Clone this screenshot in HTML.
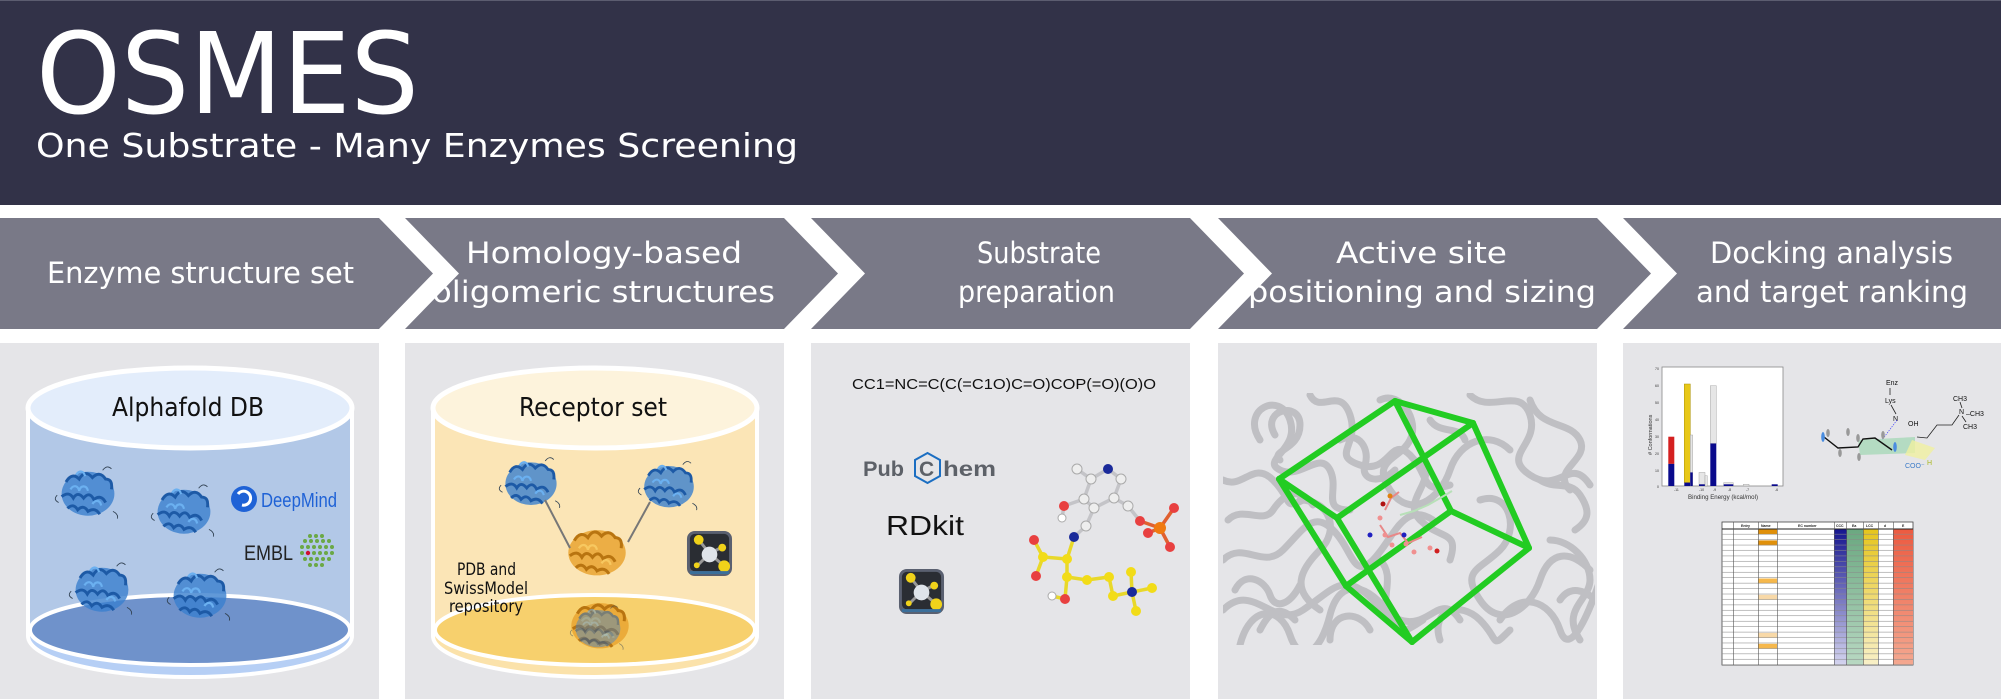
<!DOCTYPE html>
<html><head><meta charset="utf-8"><style>
html,body{margin:0;padding:0;background:#fff;}
svg{display:block;}
</style></head><body>
<svg width="2001" height="699" viewBox="0 0 2001 699" xmlns="http://www.w3.org/2000/svg" font-family="'Liberation Sans', sans-serif">
<defs>
<symbol id="prot" viewBox="0 0 100 90">
<ellipse cx="50" cy="46" rx="36" ry="30" fill="#3a7fce" opacity="0.8"/>
<path d="M20 30 q8 -14 18 -4 q8 -14 18 -2 q10 -10 18 2 q10 0 8 14 M14 50 q10 -8 16 2 q6 -10 14 0 q8 -10 14 2 q10 -8 16 4 M22 66 q8 -8 14 2 q8 -8 14 2 q10 -6 16 4" stroke="#1d5aa6" stroke-width="4" fill="none"/>
<path d="M26 40 c4 -6 10 -6 12 2 c2 -8 10 -8 12 0 M56 60 c4 -6 10 -6 12 2 M34 20 c4 -6 10 -6 12 2" stroke="#6bb0f0" stroke-width="3" fill="none"/>
<path d="M8 48 q-6 6 2 10 M84 70 q8 4 6 10 M70 14 q6 -8 12 -2" stroke="#345" stroke-width="1.2" fill="none"/>
</symbol>
<symbol id="protO" viewBox="0 0 100 90">
<ellipse cx="50" cy="46" rx="38" ry="30" fill="#e9a531" opacity="0.85"/>
<path d="M20 30 q8 -14 18 -4 q8 -14 18 -2 q10 -10 18 2 q10 0 8 14 M14 50 q10 -8 16 2 q6 -10 14 0 q8 -10 14 2 q10 -8 16 4 M22 66 q8 -8 14 2 q8 -8 14 2 q10 -6 16 4" stroke="#b87410" stroke-width="4" fill="none"/>
<path d="M26 40 c4 -6 10 -6 12 2 c2 -8 10 -8 12 0 M56 60 c4 -6 10 -6 12 2" stroke="#f7c860" stroke-width="3" fill="none"/>
</symbol>
<symbol id="icon" viewBox="0 0 48 48">
<rect x="1" y="1" width="46" height="46" rx="8" fill="#5a6070"/>
<rect x="4" y="4" width="40" height="38" rx="5" fill="#2a2d33"/>
<line x1="24" y1="24" x2="13" y2="10" stroke="#999" stroke-width="3"/>
<line x1="24" y1="24" x2="36" y2="18" stroke="#999" stroke-width="3"/>
<line x1="24" y1="24" x2="38" y2="36" stroke="#999" stroke-width="3"/>
<line x1="24" y1="24" x2="12" y2="36" stroke="#999" stroke-width="3"/>
<circle cx="13" cy="10" r="5" fill="#f0d21a"/>
<circle cx="37" cy="18" r="4" fill="#f0d21a"/>
<circle cx="39" cy="37" r="6" fill="#f0d21a"/>
<circle cx="11" cy="36" r="3" fill="#f0d21a"/>
<circle cx="24" cy="25" r="8" fill="#dfe4ea"/>
<rect x="4" y="42" width="40" height="3" fill="#3b6f9a"/>
</symbol>
<linearGradient id="gccc" x1="0" y1="0" x2="0" y2="1"><stop offset="0" stop-color="#15158f"/><stop offset="1" stop-color="#d4d4ef"/></linearGradient>
<linearGradient id="gea" x1="0" y1="0" x2="0" y2="1"><stop offset="0" stop-color="#6aa880"/><stop offset="1" stop-color="#b8d8c2"/></linearGradient>
<linearGradient id="glcc" x1="0" y1="0" x2="0" y2="1"><stop offset="0" stop-color="#e6c51c"/><stop offset="1" stop-color="#f8f0c8"/></linearGradient>
<linearGradient id="ge" x1="0" y1="0" x2="0" y2="1"><stop offset="0" stop-color="#ec5a40"/><stop offset="1" stop-color="#f4a890"/></linearGradient>
<pattern id="rows" x="0" y="529" width="10" height="5.44" patternUnits="userSpaceOnUse"><line x1="0" y1="5.2" x2="10" y2="5.2" stroke="#888" stroke-width="0.6"/></pattern>
<clipPath id="tubeclip"><rect x="1223" y="393" width="372" height="252"/></clipPath>
</defs>

<!-- header -->
<rect x="0" y="0" width="2001" height="205" fill="#323248"/>
<rect x="0" y="0" width="2001" height="1" fill="#5c5d70"/>
<text x="36" y="113" font-size="112" fill="#fff" font-family="'DejaVu Sans Condensed','DejaVu Sans',sans-serif" textLength="383" lengthAdjust="spacingAndGlyphs">OSMES</text>
<text x="36" y="157" font-size="33" fill="#fff" font-family="'DejaVu Sans Condensed','DejaVu Sans',sans-serif" textLength="762" lengthAdjust="spacingAndGlyphs">One Substrate - Many Enzymes Screening</text>

<!-- chevrons -->
<g fill="#797987">
<polygon points="0,218 379,218 433,273.5 379,329 0,329"/>
<polygon points="405,218 784,218 838,273.5 784,329 405,329 459,273.5"/>
<polygon points="811,218 1190,218 1244,273.5 1190,329 811,329 865,273.5"/>
<polygon points="1218,218 1597,218 1651,273.5 1597,329 1218,329 1272,273.5"/>
<polygon points="1623,218 2001,218 2001,329 1623,329 1677,273.5"/>
</g>
<g fill="#fff" font-size="29" font-family="'DejaVu Sans Condensed','DejaVu Sans',sans-serif">
<text x="47" y="283" textLength="307" lengthAdjust="spacingAndGlyphs">Enzyme structure set</text>
<text x="466" y="263" textLength="276" lengthAdjust="spacingAndGlyphs">Homology-based</text>
<text x="432" y="302" textLength="343" lengthAdjust="spacingAndGlyphs">oligomeric structures</text>
<text x="977" y="263" textLength="124" lengthAdjust="spacingAndGlyphs">Substrate</text>
<text x="958" y="302" textLength="157" lengthAdjust="spacingAndGlyphs">preparation</text>
<text x="1336" y="263" textLength="171" lengthAdjust="spacingAndGlyphs">Active site</text>
<text x="1248" y="302" textLength="348" lengthAdjust="spacingAndGlyphs">positioning and sizing</text>
<text x="1710" y="263" textLength="243" lengthAdjust="spacingAndGlyphs">Docking analysis</text>
<text x="1696" y="302" textLength="272" lengthAdjust="spacingAndGlyphs">and target ranking</text>
</g>

<!-- panels -->
<g fill="#e5e5e8">
<rect x="0" y="343" width="379" height="356"/>
<rect x="405" y="343" width="379" height="356"/>
<rect x="811" y="343" width="379" height="356"/>
<rect x="1218" y="343" width="379" height="356"/>
<rect x="1623" y="343" width="378" height="356"/>
</g>

<!-- panel 1 cylinder -->
<ellipse cx="190" cy="636" rx="162" ry="41" fill="#b6cff5" stroke="#fff" stroke-width="4"/>
<rect x="28" y="408" width="324" height="228" fill="#b2c8e7"/>
<ellipse cx="190" cy="630" rx="160" ry="35" fill="#6f92cb" stroke="#fff" stroke-width="4"/>
<line x1="28" y1="408" x2="28" y2="636" stroke="#fff" stroke-width="4"/>
<line x1="352" y1="408" x2="352" y2="636" stroke="#fff" stroke-width="4"/>
<ellipse cx="190" cy="408" rx="162" ry="40" fill="#e3edfb" stroke="#fff" stroke-width="5"/>
<text x="112" y="416" font-size="26" fill="#111" font-family="'DejaVu Sans Condensed','DejaVu Sans',sans-serif" textLength="152" lengthAdjust="spacingAndGlyphs">Alphafold DB</text>
<use href="#prot" x="51" y="460" width="74" height="66"/>
<use href="#prot" x="143" y="478" width="82" height="66"/>
<use href="#prot" x="64" y="556" width="76" height="66"/>
<use href="#prot" x="161" y="562" width="78" height="66"/>
<circle cx="244" cy="499" r="13" fill="#1f62d6"/>
<path d="M238 494 a7 7 0 1 1 4 11" stroke="#fff" stroke-width="3" fill="none"/>
<text x="261" y="507" font-size="20" fill="#1f62d6" textLength="76" lengthAdjust="spacingAndGlyphs">DeepMind</text>
<text x="244" y="560" font-size="21" fill="#222" textLength="49" lengthAdjust="spacingAndGlyphs">EMBL</text>
<g fill="#6aa845">
<circle cx="310" cy="536" r="2"/><circle cx="316" cy="536" r="2"/><circle cx="322" cy="536" r="2"/>
<circle cx="305" cy="541" r="2"/><circle cx="311" cy="541" r="2"/><circle cx="317" cy="541" r="2"/><circle cx="323" cy="541" r="2"/><circle cx="329" cy="541" r="2"/>
<circle cx="302" cy="547" r="2"/><circle cx="308" cy="547" r="2"/><circle cx="314" cy="547" r="2"/><circle cx="320" cy="547" r="2"/><circle cx="326" cy="547" r="2"/><circle cx="332" cy="547" r="2"/>
<circle cx="302" cy="553" r="2"/><circle cx="314" cy="553" r="2"/><circle cx="320" cy="553" r="2"/><circle cx="326" cy="553" r="2"/><circle cx="332" cy="553" r="2"/>
<circle cx="305" cy="559" r="2"/><circle cx="311" cy="559" r="2"/><circle cx="317" cy="559" r="2"/><circle cx="323" cy="559" r="2"/><circle cx="329" cy="559" r="2"/>
<circle cx="310" cy="565" r="2"/><circle cx="316" cy="565" r="2"/><circle cx="322" cy="565" r="2"/>
</g>
<circle cx="308" cy="553" r="2.2" fill="#d01030"/>

<!-- panel 2 cylinder -->
<ellipse cx="595" cy="636" rx="162" ry="41" fill="#fbe2aa" stroke="#fff" stroke-width="4"/>
<rect x="433" y="408" width="324" height="228" fill="#fbe5b6"/>
<ellipse cx="595" cy="630" rx="160" ry="35" fill="#f7d06d" stroke="#fff" stroke-width="4"/>
<line x1="433" y1="408" x2="433" y2="636" stroke="#fff" stroke-width="4"/>
<line x1="757" y1="408" x2="757" y2="636" stroke="#fff" stroke-width="4"/>
<ellipse cx="595" cy="408" rx="162" ry="40" fill="#fdf3dc" stroke="#fff" stroke-width="5"/>
<text x="519" y="416" font-size="26" fill="#111" font-family="'DejaVu Sans Condensed','DejaVu Sans',sans-serif" textLength="148" lengthAdjust="spacingAndGlyphs">Receptor set</text>
<use href="#prot" x="495" y="451" width="72" height="64"/>
<use href="#prot" x="633" y="455" width="72" height="62"/>
<use href="#protO" x="536" y="518" width="122" height="68"/>
<line x1="545" y1="500" x2="570" y2="548" stroke="#777" stroke-width="2"/>
<line x1="650" y1="502" x2="628" y2="542" stroke="#777" stroke-width="2"/>
<use href="#protO" x="540" y="591" width="120" height="68"/>
<use href="#prot" x="548" y="600" width="100" height="56" opacity="0.55"/>
<use href="#icon" x="686" y="530" width="47" height="47"/>
<g font-size="17" fill="#111" font-family="'DejaVu Sans Condensed','DejaVu Sans',sans-serif">
<text x="457" y="575" textLength="59" lengthAdjust="spacingAndGlyphs">PDB and</text>
<text x="444" y="594" textLength="84" lengthAdjust="spacingAndGlyphs">SwissModel</text>
<text x="449" y="612" textLength="74" lengthAdjust="spacingAndGlyphs">repository</text>
</g>

<!-- panel 3 -->
<text x="852" y="389" font-size="15" fill="#111" textLength="304" lengthAdjust="spacingAndGlyphs">CC1=NC=C(C(=C1O)C=O)COP(=O)(O)O</text>
<text x="863" y="476" font-size="21" font-weight="bold" fill="#5d6168" textLength="41" lengthAdjust="spacingAndGlyphs">Pub</text>
<polygon points="927.5,453 940,460 940,476 927.5,483 915,476 915,460" fill="none" stroke="#1b6ec2" stroke-width="2"/>
<text x="919" y="476" font-size="21" font-weight="bold" fill="#5d6168">C</text>
<text x="943" y="476" font-size="21" font-weight="bold" fill="#5d6168" textLength="53" lengthAdjust="spacingAndGlyphs">hem</text>
<text x="886" y="535" font-size="28" fill="#111" textLength="78" lengthAdjust="spacingAndGlyphs">RDkit</text>
<use href="#icon" x="898" y="568" width="47" height="47"/>
<g stroke-width="3.5" fill="none">
<path d="M1077 469 L1091 479 L1108 469 L1121 479 L1114 498 L1094 508 L1084 499 L1091 479" stroke="#c4c4c8"/>
<path d="M1114 498 L1128 506 L1140 521" stroke="#c4c4c8"/>
<path d="M1094 508 L1086 526 L1074 537" stroke="#c4c4c8"/>
<path d="M1084 499 L1064 506 L1062 518" stroke="#c4c4c8"/>
<path d="M1140 521 L1160 528 L1174 508 M1160 528 L1148 533 M1160 528 L1170 547" stroke="#e06030"/>
<path d="M1074 537 L1067 559 L1043 557 L1034 540 M1043 557 L1036 576 M1067 559 L1067 577 L1065 599 L1052 596 M1067 577 L1087 580 L1109 577 L1113 596 L1132 592 L1131 572 M1132 592 L1152 588 M1132 592 L1136 611" stroke="#e8d82a"/>
</g>
<g>
<circle cx="1077" cy="469" r="5" fill="#eee" stroke="#aaa"/><circle cx="1091" cy="479" r="5" fill="#eee" stroke="#aaa"/>
<circle cx="1108" cy="469" r="5" fill="#1a2a9a"/><circle cx="1121" cy="479" r="5" fill="#eee" stroke="#aaa"/>
<circle cx="1114" cy="498" r="5" fill="#eee" stroke="#aaa"/><circle cx="1094" cy="508" r="5" fill="#eee" stroke="#aaa"/>
<circle cx="1084" cy="499" r="5" fill="#eee" stroke="#aaa"/><circle cx="1064" cy="506" r="5" fill="#e84040"/>
<circle cx="1062" cy="518" r="4" fill="#fff" stroke="#aaa"/><circle cx="1128" cy="506" r="5" fill="#eee" stroke="#aaa"/>
<circle cx="1140" cy="521" r="5" fill="#e84040"/><circle cx="1160" cy="528" r="6" fill="#f07a10"/>
<circle cx="1174" cy="508" r="5" fill="#e84040"/><circle cx="1148" cy="533" r="5" fill="#e84040"/>
<circle cx="1170" cy="547" r="5" fill="#e84040"/><circle cx="1086" cy="526" r="5" fill="#eee" stroke="#aaa"/>
<circle cx="1074" cy="537" r="5" fill="#1a2a9a"/><circle cx="1067" cy="559" r="5" fill="#f2dc18"/>
<circle cx="1043" cy="557" r="5" fill="#f2dc18"/><circle cx="1034" cy="540" r="5" fill="#e84040"/>
<circle cx="1036" cy="576" r="5" fill="#e84040"/><circle cx="1067" cy="577" r="5" fill="#f2dc18"/>
<circle cx="1065" cy="599" r="5" fill="#e84040"/><circle cx="1052" cy="596" r="4" fill="#fff" stroke="#aaa"/>
<circle cx="1087" cy="580" r="5" fill="#f2dc18"/><circle cx="1109" cy="577" r="5" fill="#f2dc18"/>
<circle cx="1113" cy="596" r="5" fill="#f2dc18"/><circle cx="1132" cy="592" r="5" fill="#1a2a9a"/>
<circle cx="1131" cy="572" r="5" fill="#f2dc18"/><circle cx="1152" cy="588" r="5" fill="#f2dc18"/>
<circle cx="1136" cy="611" r="5" fill="#f2dc18"/>
</g>

<!-- panel 4 tubes -->
<g clip-path="url(#tubeclip)" fill="none" stroke="#b9b9bd" stroke-width="7" stroke-linecap="round" opacity="0.85">
<path d="M1223 560 c20 -20 40 10 60 -10 s30 -40 50 -20 s20 50 40 30 s30 -60 60 -40"/>
<path d="M1260 440 c-20 -30 20 -50 30 -20 s-30 40 -10 50 s40 -20 50 0 s-10 40 20 40"/>
<path d="M1275 435 c-15 -25 25 -35 25 -10 s-30 25 -20 35"/>
<path d="M1310 395 c10 20 30 -10 40 20 s-20 40 10 50 s30 -30 50 -10 s10 40 40 30"/>
<path d="M1223 610 c30 -30 50 20 80 0 s40 -40 70 -10 s20 40 50 20"/>
<path d="M1240 645 c10 -40 40 -40 50 -10 s30 20 40 -20 s40 -30 60 0"/>
<path d="M1380 400 c20 -10 40 20 30 40 s-40 20 -20 50 s50 10 60 -20 s40 -40 60 -20"/>
<path d="M1470 395 c20 20 50 -10 60 20 s-30 40 0 60 s40 -20 60 10"/>
<path d="M1530 400 c10 30 40 20 50 40 s-30 30 -10 50"/>
<path d="M1480 500 c30 -10 40 30 20 50 s-40 20 -20 50 s50 10 60 -20 s30 -30 50 -10"/>
<path d="M1500 620 c20 -30 50 -20 60 10 s30 -20 40 -50"/>
<path d="M1380 560 c20 20 -10 50 20 60 s40 -30 60 0"/>
<path d="M1300 500 c30 0 40 30 20 50 s-30 40 0 60"/>
<path d="M1420 460 c20 20 -20 40 0 60 s40 10 30 40"/>
<path d="M1550 540 c20 0 40 20 40 40 s-30 30 -10 60"/>
<path d="M1223 480 c20 10 30 -20 50 0 s10 30 30 20"/>
<path d="M1440 640 c-10 -30 20 -40 40 -20 s10 30 30 10"/>
<path d="M1330 640 c0 -30 30 -30 40 -10"/>
<path d="M1228 520 c15 -15 35 5 45 -10 s25 -25 40 -5"/>
<path d="M1235 590 c10 -20 30 -10 35 5 s20 10 30 -10"/>
<path d="M1340 440 c20 -10 30 10 25 25 s15 20 30 5"/>
<path d="M1430 420 c10 15 30 5 35 20"/>
<path d="M1540 480 c15 10 30 0 40 15 s10 25 -5 35"/>
<path d="M1560 600 c10 -15 25 -10 35 0"/>
<path d="M1260 630 c10 -20 20 -25 35 -10"/>
</g>
<g stroke="#22cc22" stroke-width="6" stroke-linecap="round">
<line x1="1395" y1="401" x2="1473" y2="423"/>
<line x1="1395" y1="401" x2="1279" y2="479"/>
<line x1="1279" y1="479" x2="1337" y2="518"/>
<line x1="1337" y1="518" x2="1473" y2="423"/>
<line x1="1395" y1="401" x2="1451" y2="511"/>
<line x1="1473" y1="423" x2="1529" y2="548"/>
<line x1="1451" y1="511" x2="1529" y2="548"/>
<line x1="1279" y1="479" x2="1346" y2="586"/>
<line x1="1346" y1="586" x2="1412" y2="642"/>
<line x1="1412" y1="642" x2="1529" y2="548"/>
<line x1="1337" y1="518" x2="1412" y2="642"/>
<line x1="1346" y1="586" x2="1451" y2="511"/>
</g>
<g stroke-width="2" fill="none">
<path d="M1385 510 l6 -12 l8 -6 M1380 525 l8 12 l12 -4 l8 10 l14 -6" stroke="#e88888"/>
<path d="M1400 515 l14 -4 l14 -6 l14 -8 l10 -6" stroke="#b8e0b8"/>
</g>
<g fill="#f09090"><circle cx="1385" cy="535" r="2.5"/><circle cx="1392" cy="545" r="2.5"/><circle cx="1406" cy="544" r="2.5"/><circle cx="1414" cy="552" r="2.5"/><circle cx="1430" cy="548" r="2.5"/><circle cx="1380" cy="518" r="2.5"/></g>
<circle cx="1383" cy="504" r="2.5" fill="#b01010"/><circle cx="1390" cy="496" r="2.5" fill="#e08010"/><circle cx="1370" cy="535" r="2.5" fill="#2020c0"/><circle cx="1404" cy="535" r="2.5" fill="#2020c0"/><circle cx="1437" cy="551" r="2.5" fill="#d02020"/>

<!-- panel 5 chart -->
<rect x="1662" y="367" width="121" height="119" fill="#fff" stroke="#888" stroke-width="0.8"/>
<rect x="1668.3" y="436.7" width="6" height="27.2" fill="#d42020"/>
<rect x="1668.3" y="463.9" width="6" height="22.1" fill="#0a0a8c"/>
<rect x="1684.3" y="384" width="6" height="98.6" fill="#e8c818" stroke="#aa9000" stroke-width="0.5"/>
<rect x="1684.3" y="482.6" width="6" height="3.4" fill="#0a0a8c"/>
<rect x="1690.3" y="435" width="2.4" height="51" fill="#e6e6e6" stroke="#999" stroke-width="0.4"/>
<rect x="1690.3" y="472.4" width="2.4" height="13.6" fill="#0a0a8c"/>
<rect x="1699" y="472.4" width="6" height="13.6" fill="#e6e6e6" stroke="#999" stroke-width="0.4"/>
<rect x="1699" y="484.3" width="6" height="1.7" fill="#0a0a8c"/>
<rect x="1705" y="475.8" width="2.3" height="10.2" fill="#e6e6e6" stroke="#999" stroke-width="0.4"/>
<rect x="1710.3" y="385.7" width="6" height="57.8" fill="#e6e6e6" stroke="#999" stroke-width="0.4"/>
<rect x="1710.3" y="443.5" width="6" height="42.5" fill="#0a0a8c"/>
<rect x="1723.7" y="482.6" width="9.6" height="3.4" fill="#e6e6e6" stroke="#999" stroke-width="0.4"/>
<rect x="1723.7" y="484.3" width="9.6" height="1.7" fill="#0a0a8c"/>
<rect x="1743.3" y="484.3" width="5.7" height="1.7" fill="#e6e6e6" stroke="#999" stroke-width="0.4"/>
<rect x="1771.7" y="484.3" width="6" height="1.7" fill="#0a0a8c"/>
<text x="1652" y="455" font-size="5.5" fill="#333" transform="rotate(-90 1652 455)">  # Conformations</text>
<text x="1688" y="499" font-size="6" fill="#333" textLength="70" lengthAdjust="spacingAndGlyphs">Binding Energy (kcal/mol)</text>
<g font-size="3.5" fill="#333"><text x="1674" y="491">-11</text><text x="1699" y="491">-10</text><text x="1713" y="491">-9</text><text x="1728" y="491">-8</text><text x="1746" y="491">-7</text><text x="1775" y="491">-6</text>
<text x="1655" y="370">70</text><text x="1655" y="387">60</text><text x="1655" y="404">50</text><text x="1655" y="421">40</text><text x="1655" y="438">30</text><text x="1655" y="455">20</text><text x="1655" y="472">10</text><text x="1657" y="488">0</text></g>

<!-- panel 5 reaction scheme -->
<g font-size="7" fill="#111">
<text x="1886" y="385">Enz</text><text x="1885" y="403">Lys</text><text x="1893" y="421">N</text>
<text x="1953" y="401">CH3</text><text x="1959" y="414">N</text><text x="1966" y="416">–CH3</text><text x="1963" y="429">CH3</text>
<text x="1908" y="426">OH</text>
</g>
<g stroke="#222" stroke-width="0.8" fill="none">
<line x1="1890" y1="388" x2="1890" y2="395"/><line x1="1891" y1="405" x2="1896" y2="414"/>
<path d="M1917 437 L1927 438 L1937 425 L1952 425 L1959 415"/>
<line x1="1960" y1="402" x2="1962" y2="408"/><line x1="1962" y1="416" x2="1966" y2="422"/>
</g>
<polygon points="1858,440 1915,437 1915,453 1860,455" fill="#a8d8b8" opacity="0.8"/>
<polygon points="1912,440 1935,448 1925,460 1905,455" fill="#f0f0a0" opacity="0.8"/>
<path d="M1824 437 L1838 448 L1858 447 L1863 439 L1875 438 L1892 450" stroke="#111" stroke-width="1.4" fill="none"/>
<line x1="1897" y1="420" x2="1882" y2="440" stroke="#33f" stroke-width="0.6" stroke-dasharray="1.5 1"/>
<g fill="#999"><ellipse cx="1828" cy="433" rx="1.8" ry="4"/><ellipse cx="1848" cy="432" rx="1.8" ry="4"/><ellipse cx="1858" cy="438" rx="1.8" ry="4"/><ellipse cx="1883" cy="435" rx="1.8" ry="4"/><ellipse cx="1840" cy="453" rx="1.8" ry="4"/><ellipse cx="1859" cy="457" rx="1.8" ry="4"/></g>
<g fill="#4a8de0"><ellipse cx="1823" cy="437" rx="1.8" ry="5"/><ellipse cx="1895" cy="447" rx="1.8" ry="5"/></g>
<text x="1905" y="468" font-size="7" fill="#3a7ac8">COO⁻</text>
<text x="1927" y="465" font-size="7" fill="#a8b820">H</text>

<!-- panel 5 table -->
<rect x="1722" y="522" width="191" height="143" fill="#fff" stroke="#444" stroke-width="0.8"/>
<rect x="1834.3" y="529" width="12.4" height="136" fill="url(#gccc)"/>
<rect x="1846.7" y="529" width="16.6" height="136" fill="url(#gea)"/>
<rect x="1863.3" y="529" width="15" height="136" fill="url(#glcc)"/>
<rect x="1893.3" y="529" width="19.7" height="136" fill="url(#ge)"/>
<rect x="1758.3" y="529.5" width="19" height="5" fill="#e0900a"/>
<rect x="1758.3" y="540.4" width="19" height="5" fill="#e0900a"/>
<rect x="1758.3" y="578.5" width="19" height="5" fill="#f6b84c"/>
<rect x="1758.3" y="594.8" width="19" height="5" fill="#f8d9a8"/>
<rect x="1758.3" y="632.9" width="19" height="5" fill="#f8d9a8"/>
<rect x="1758.3" y="643.8" width="19" height="5" fill="#f6b84c"/>
<rect x="1722" y="529" width="191" height="136" fill="url(#rows)"/>
<line x1="1722" y1="529" x2="1913" y2="529" stroke="#222" stroke-width="1"/>
<g stroke="#555" stroke-width="0.6">
<line x1="1733.7" y1="522" x2="1733.7" y2="665"/><line x1="1758.3" y1="522" x2="1758.3" y2="665"/>
<line x1="1777.3" y1="522" x2="1777.3" y2="665"/><line x1="1834.3" y1="522" x2="1834.3" y2="665"/>
<line x1="1846.7" y1="522" x2="1846.7" y2="665"/><line x1="1863.3" y1="522" x2="1863.3" y2="665"/>
<line x1="1878.3" y1="522" x2="1878.3" y2="665"/><line x1="1893.3" y1="522" x2="1893.3" y2="665"/>
</g>
<g font-size="3.5" fill="#222" font-weight="bold"><text x="1741" y="527">Entry</text><text x="1761" y="527">Name</text><text x="1798" y="527">EC number</text><text x="1836" y="527">CCC</text><text x="1852" y="527">Ea</text><text x="1866" y="527">LCC</text><text x="1884" y="527">d</text><text x="1902" y="527">E</text></g>
</svg>
</body></html>
